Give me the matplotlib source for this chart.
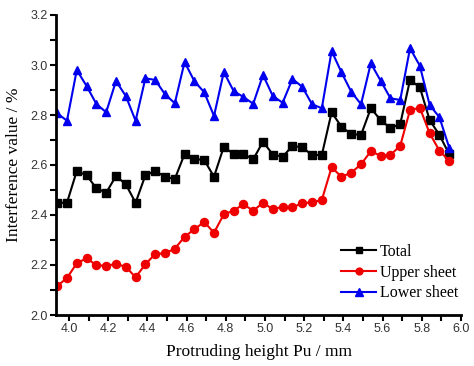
import numpy as np
import matplotlib
matplotlib.use("Agg")
import matplotlib.pyplot as plt
from matplotlib.ticker import MultipleLocator

x = [round(3.94 + 0.05 * i, 2) for i in range(41)]

total = [2.449, 2.449, 2.576, 2.559, 2.507, 2.489, 2.556, 2.523, 2.449, 2.559,
         2.576, 2.553, 2.544, 2.644, 2.624, 2.620, 2.553, 2.673, 2.644, 2.644,
         2.623, 2.693, 2.642, 2.633, 2.676, 2.671, 2.640, 2.640, 2.811, 2.753,
         2.724, 2.720, 2.827, 2.780, 2.747, 2.764, 2.940, 2.911, 2.780, 2.720,
         2.643]

upper = [2.116, 2.148, 2.207, 2.227, 2.199, 2.197, 2.204, 2.193, 2.151, 2.203,
         2.244, 2.247, 2.265, 2.313, 2.343, 2.372, 2.329, 2.403, 2.417, 2.443,
         2.417, 2.449, 2.423, 2.433, 2.431, 2.447, 2.451, 2.460, 2.591, 2.553,
         2.569, 2.603, 2.655, 2.637, 2.640, 2.677, 2.820, 2.829, 2.727, 2.657,
         2.616]

lower = [2.807, 2.777, 2.980, 2.916, 2.844, 2.811, 2.936, 2.876, 2.777, 2.947,
         2.940, 2.883, 2.847, 3.012, 2.935, 2.891, 2.796, 2.972, 2.896, 2.872,
         2.845, 2.960, 2.876, 2.849, 2.944, 2.913, 2.843, 2.827, 3.056, 2.971,
         2.893, 2.843, 3.007, 2.937, 2.867, 2.860, 3.067, 2.997, 2.840, 2.791,
         2.669]

labels = ["Total", "Upper sheet", "Lower sheet"]

fig = plt.figure(figsize=(4.74, 3.66), dpi=100)
ax = fig.add_axes([56/474, 1-315/366, (461-56)/474, 300/366])

ax.plot(x, total, color="black", marker="s", ms=5.3, lw=1.5, label=labels[0])
ax.plot(x, upper, color="#ee0000", marker="o", ms=5.8, lw=1.5, label=labels[1])
ax.plot(x, lower, color="#0000ee", marker="^", ms=6.3, lw=1.5, label=labels[2])

ax.set_xlim(3.934, 6.0)
ax.set_ylim(2.0, 3.2)
ax.xaxis.set_major_locator(MultipleLocator(0.2))
ax.xaxis.set_minor_locator(MultipleLocator(0.1))
ax.yaxis.set_major_locator(MultipleLocator(0.2))
ax.yaxis.set_minor_locator(MultipleLocator(0.1))
ax.xaxis.set_major_formatter(matplotlib.ticker.FormatStrFormatter("%.1f"))
ax.yaxis.set_major_formatter(matplotlib.ticker.FormatStrFormatter("%.1f"))

for s in ["top", "right"]:
    ax.spines[s].set_visible(False)
for s in ["left", "bottom"]:
    ax.spines[s].set_linewidth(2)

ax.tick_params(which="both", direction="out", length=4, width=1.5,
               labelsize=9, labelcolor="#333333", pad=2)
for lab in ax.get_xticklabels() + ax.get_yticklabels():
    lab.set_family("Liberation Sans")

ax.set_xlabel("Protruding height Pu / mm", family="Liberation Serif", fontsize=12.5, labelpad=6)
ax.set_ylabel("Interference value / %", family="Liberation Serif", fontsize=12.5, labelpad=6)

leg = ax.legend(loc="lower right", bbox_to_anchor=(1.0, 0.035), frameon=False,
                prop={"family": "Liberation Serif", "size": 11.5},
                handlelength=2.2, handletextpad=0.2, labelspacing=0.3,
                borderaxespad=0.0, borderpad=0.2, markerscale=0.85)

fig.savefig("out.png", dpi=100)
